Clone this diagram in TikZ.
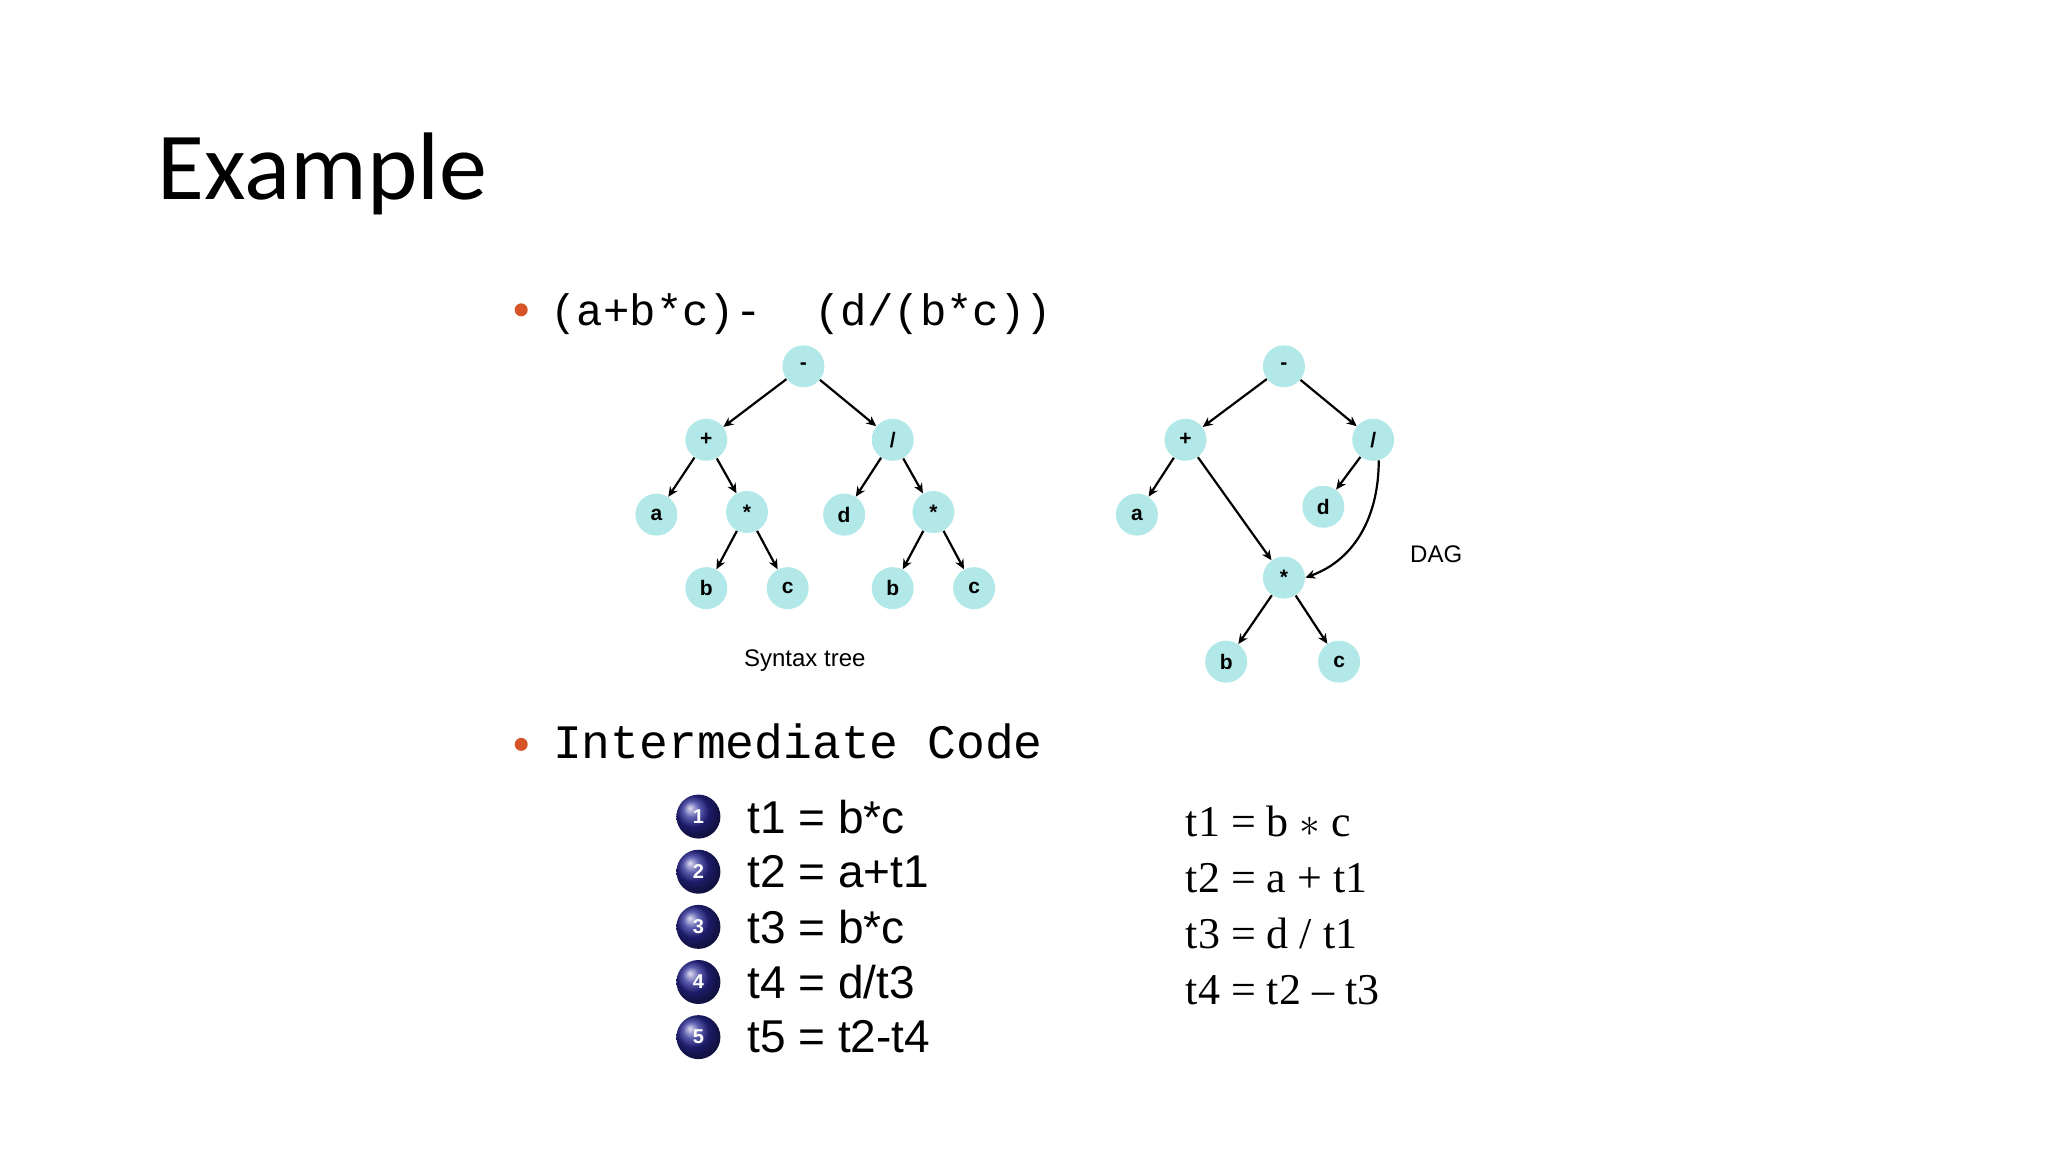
\documentclass[tikz,border=0pt]{standalone}
\usepackage{fontspec}
\setmainfont{Liberation Sans}
\newfontfamily\titlefont{Carlito}
\newfontfamily\monofont{Liberation Mono}
\newfontfamily\seriffont{Liberation Serif}
\usetikzlibrary{arrows.meta}
\definecolor{nodecyan}{RGB}{178,232,232}
\definecolor{bulletred}{RGB}{214,84,40}
\definecolor{balldark}{RGB}{40,40,150}
\tikzset{
 tn/.style={circle,fill=nodecyan,minimum size=21pt,inner sep=0pt,font=\bfseries\fontsize{10.5}{11}\selectfont},
 ed/.style={-{Stealth[length=5pt,width=4.5pt]},line width=1.1pt},
 bul/.style={circle,fill=bulletred,minimum size=6.5pt,inner sep=0pt},
 numball/.style={circle,ball color=balldark,minimum size=22pt,inner sep=0pt,text=white,font=\bfseries\fontsize{10}{11}\selectfont},
 ltext/.style={anchor=west,font=\fontsize{23}{25}\selectfont,inner sep=0pt},
 rtext/.style={anchor=west,font=\seriffont\fontsize{22}{24}\selectfont,inner sep=0pt},
}
\begin{document}
\begin{tikzpicture}[x=0.6564pt,y=-0.6564pt]
\useasboundingbox (0,0) rectangle (1560,877.7);
\node[anchor=base west,inner sep=0pt,font=\titlefont\fontsize{48}{52}\selectfont] (title) at (120,152) {Example};
\node[bul] (b1) at (397,236) {};
\node[anchor=base west,inner sep=0pt,font=\monofont\fontsize{22}{24}\selectfont] (expr) at (419,248) {(a+b*c)-\ \ (d/(b*c))};
% syntax tree
\node[tn] (r) at (612,279) {-};
\node[tn] (p) at (538,335) {+};
\node[tn] (q) at (680,335) {/};
\node[tn] (a) at (500,392) {a};
\node[tn] (m1) at (569,390) {*};
\node[tn] (d) at (643,392) {d};
\node[tn] (m2) at (711,390) {*};
\node[tn] (b) at (538,448) {b};
\node[tn] (c) at (600,448) {c};
\node[tn] (bb) at (680,448) {b};
\node[tn] (cc) at (742,448) {c};
\foreach \u/\v in {r/p,r/q,p/a,p/m1,q/d,q/m2,m1/b,m1/c,m2/bb,m2/cc}
  \draw[ed] (\u) -- (\v);
\node[font=\fontsize{12}{14}\selectfont] (st) at (613,503) {Syntax tree};
% DAG
\node[tn] (R) at (978,279) {-};
\node[tn] (P) at (903,335) {+};
\node[tn] (Q) at (1046,335) {/};
\node[tn] (A) at (866,392) {a};
\node[tn] (D) at (1008,386) {d};
\node[tn] (M) at (978,440) {*};
\node[tn] (B) at (934,504) {b};
\node[tn] (C) at (1020,504) {c};
\foreach \u/\v in {R/P,R/Q,P/A,P/M,Q/D,M/B,M/C}
  \draw[ed] (\u) -- (\v);
\draw[ed] (Q.-75) to[out=-90,in=20] (M.east);
\node[font=\fontsize{12}{14}\selectfont] (dag) at (1094,422) {DAG};
% intermediate code
\node[bul] (b2) at (397,567) {};
\node[anchor=base west,inner sep=0pt,font=\monofont\fontsize{24}{26}\selectfont] (ic) at (421,578) {Intermediate Code};
\foreach \i/\y/\t in {1/622/{t1 = b*c},2/664/{t2 = a+t1},3/706/{t3 = b*c},4/748/{t4 = d/t3},5/790/{t5 = t2-t4}}{
  \node[numball] (n\i) at (532,\y) {\i};
  \node[ltext] (l\i) at (569,\y) {\t};
}
\foreach \i/\y/\t in {1/626/{t1 = b $*$ c},2/669/{t2 = a + t1},3/711/{t3 = d / t1},4/754/{t4 = t2 \textendash\ t3}}{
  \node[rtext] (r\i) at (903,\y) {\t};
}
\end{tikzpicture}
\end{document}
